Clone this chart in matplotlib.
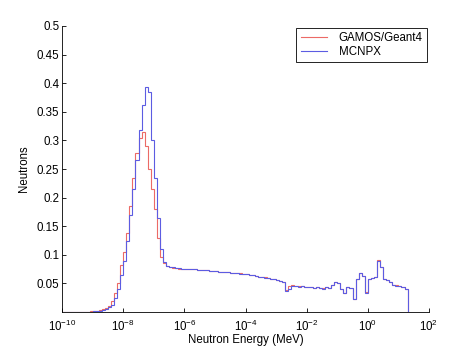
import numpy as np
import matplotlib
matplotlib.use("Agg")
import matplotlib.pyplot as plt

plt.rcParams['font.family'] = ['Liberation Sans', 'DejaVu Sans']
plt.rcParams['mathtext.fontset'] = 'custom'
plt.rcParams['mathtext.rm'] = 'Liberation Sans'
plt.rcParams['mathtext.it'] = 'Liberation Sans'

# границы бинов: 0.1 декады от 1e-10 до 10^1.3 МэВ
log_edges = np.linspace(-10.0, 1.3, 114)

# MCNPX
mcnpx = [
    0.0002, 0.0002, 0.0003, 0.0003, 0.0004, 0.0004, 0.0005, 0.0006, 0.0007, 0.0008,
    0.0010, 0.0014, 0.0020, 0.0030, 0.0045,
    0.008, 0.013, 0.024, 0.040, 0.065, 0.090, 0.125, 0.170, 0.215, 0.265,
    0.318, 0.362, 0.393, 0.385, 0.300, 0.235, 0.165, 0.110, 0.088, 0.081,
    0.079, 0.078, 0.077, 0.077, 0.076,
    0.0755, 0.075, 0.0748, 0.0745, 0.074, 0.0735, 0.073, 0.0728, 0.072, 0.0718,
    0.0712, 0.0708, 0.0703, 0.070, 0.0695, 0.069, 0.0685, 0.068, 0.0672, 0.0665,
    0.066, 0.065, 0.064, 0.063, 0.062, 0.061, 0.060, 0.059, 0.058, 0.057,
    0.056, 0.055, 0.053, 0.036, 0.040, 0.046, 0.045, 0.044, 0.045, 0.044,
    0.043, 0.043, 0.042, 0.043, 0.042, 0.041, 0.043, 0.042, 0.047, 0.052,
    0.050, 0.040, 0.033, 0.044, 0.042, 0.022, 0.058, 0.068, 0.063, 0.034,
    0.058, 0.060, 0.062, 0.090, 0.078, 0.058, 0.056, 0.052, 0.048, 0.046,
    0.045, 0.043, 0.040,
]

# GAMOS/Geant4
gamos = [
    0.0003, 0.0003, 0.0004, 0.0004, 0.0005, 0.0006, 0.0007, 0.0008, 0.0009, 0.0011,
    0.0015, 0.0020, 0.0030, 0.0045, 0.0070,
    0.011, 0.020, 0.033, 0.050, 0.082, 0.105, 0.138, 0.185, 0.235, 0.278,
    0.305, 0.315, 0.290, 0.250, 0.215, 0.180, 0.130, 0.097, 0.085, 0.080,
    0.078, 0.077, 0.0765, 0.076, 0.0758,
    0.0755, 0.0752, 0.0748, 0.0746, 0.074, 0.0737, 0.073, 0.0729, 0.0722, 0.0718,
    0.0714, 0.0708, 0.0705, 0.070, 0.0697, 0.069, 0.0687, 0.068, 0.0674, 0.0666,
    0.066, 0.065, 0.064, 0.063, 0.062, 0.062, 0.0605, 0.059, 0.058, 0.057,
    0.056, 0.055, 0.053, 0.038, 0.045, 0.047, 0.046, 0.045, 0.045, 0.044,
    0.044, 0.043, 0.042, 0.043, 0.042, 0.042, 0.043, 0.042, 0.047, 0.053,
    0.050, 0.041, 0.034, 0.044, 0.042, 0.023, 0.058, 0.069, 0.063, 0.035,
    0.058, 0.060, 0.062, 0.091, 0.078, 0.058, 0.056, 0.052, 0.048, 0.047,
    0.045, 0.044, 0.040,
]

yticks = [0.05, 0.1, 0.15, 0.2, 0.25, 0.3, 0.35, 0.4, 0.45, 0.5]
xdecades = [-10, -8, -6, -4, -2, 0, 2]

edges = 10.0 ** log_edges
fs = 8.3

fig = plt.figure(figsize=(4.74, 3.51), dpi=100)
ax = fig.add_axes([0.131, 0.111, 0.774, 0.815])

ax.stairs(gamos, edges, baseline=0, color='#ec6a66', lw=0.8, label='GAMOS/Geant4')
ax.stairs(mcnpx, edges, baseline=0, color='#5c5ce2', lw=0.8, label='MCNPX')

ax.set_xscale('log')
ax.set_xlim(1e-10, 1e2)
ax.set_ylim(0, 0.5)
ax.set_xticks([10.0 ** d for d in xdecades])
ax.set_xticklabels(['10$^{%d}$' % d for d in xdecades])
ax.xaxis.set_minor_locator(matplotlib.ticker.NullLocator())
ax.set_yticks(yticks)
ax.set_yticklabels(['%g' % t for t in yticks])

for s in ['top', 'right']:
    ax.spines[s].set_visible(False)
ax.spines['left'].set_linewidth(0.6)
ax.spines['bottom'].set_linewidth(0.6)
ax.tick_params(direction='in', length=3, width=0.6, labelsize=fs)
ax.tick_params(axis='x', pad=5)
ax.tick_params(axis='y', pad=2)

ax.set_xlabel('Neutron Energy (MeV)', fontsize=fs, labelpad=0)
ax.set_ylabel('Neutrons', fontsize=fs, labelpad=5)

leg = ax.legend(loc='upper right', fontsize=fs, handlelength=2.3,
                handletextpad=1.0, fancybox=False, framealpha=1,
                borderaxespad=0.15, borderpad=0.4, labelspacing=0.12)
leg.get_frame().set_edgecolor('black')
leg.get_frame().set_linewidth(0.6)

fig.savefig('out.png', dpi=100)
